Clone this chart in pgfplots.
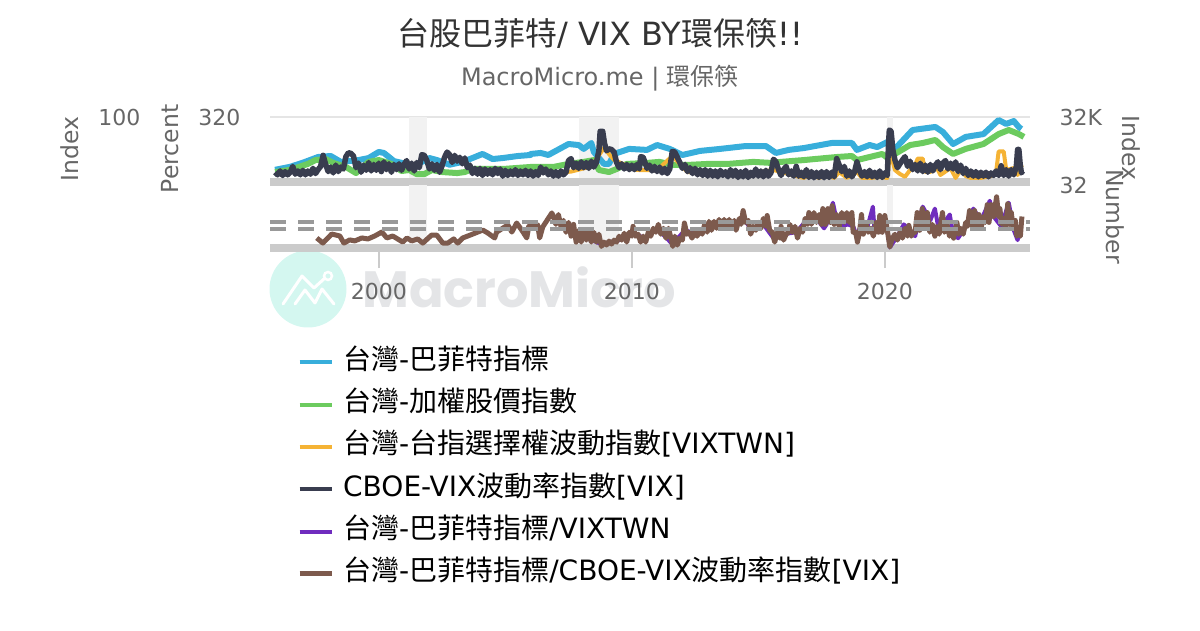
\documentclass[border=0pt]{standalone}
\usepackage{fontspec}
\usepackage{pgfplots}
\pgfplotsset{compat=1.18}
\setmainfont{DejaVu Sans}
\newfontfamily\cjkf{Noto Sans CJK TC}
\newfontfamily\wmf{Poppins}
\newcommand\cj[1]{{\cjkf #1}}
\definecolor{cblue}{HTML}{38AEDB}
\definecolor{cgreen}{HTML}{6CCB5F}
\definecolor{corange}{HTML}{F5B335}
\definecolor{cblack}{HTML}{393D4F}
\definecolor{cpurple}{HTML}{6F2CBE}
\definecolor{cbrown}{HTML}{7D5A4D}
\definecolor{axgray}{HTML}{CBCBCB}
\definecolor{bandgray}{HTML}{F2F2F2}
\definecolor{txtgray}{HTML}{666666}
\definecolor{wmgray}{HTML}{E4E5E7}
\definecolor{wmgreen}{HTML}{D4F7F0}
\pgfplotsset{
  panel/.style={
    scale only axis, width=760pt, anchor=south west,
    xmin=1995.7, xmax=2025.74, ymin=0, clip=false,
    tick label style={font=\fontsize{22}{22}\selectfont, text=txtgray},
    y axis line style={draw=none},
    ytick style={draw=none},
    x axis line style={draw=axgray, line width=8pt},
    scaled y ticks=false,
    every axis plot/.append style={line join=round},
  },
  lefttitle/.style 2 args={every axis y label/.style={
    at={(axis description cs:#1,0.51)}, anchor=center, rotate=90,
    font=\fontsize{23.5}{24}\selectfont, text=txtgray}, ylabel={#2}},
  righttitle/.style n args={3}{every axis y label/.style={
    at={(axis description cs:#1,#2)}, anchor=center, rotate=-90,
    font=\fontsize{23.5}{24}\selectfont, text=txtgray}, ylabel={#3}},
}
\begin{document}
\begin{tikzpicture}[x=1pt,y=1pt]
\path[use as bounding box] (0,0) rectangle (1200,630);
% watermark
\fill[wmgreen] (308,341) circle (38.5);
\draw[white,line width=3pt,line cap=round,line join=round] (283,326) -- (302,354) -- (314,342) -- (325,352);
\draw[white,line width=3pt,line cap=round,line join=round] (295,326) -- (305,340) -- (315,327) -- (322,341) -- (334,326);
\draw[white,line width=2.5pt] (328,354) circle (4);
\node[anchor=base west,inner sep=0pt,text=wmgray] at (362,322) {\wmf\bfseries\fontsize{51}{51}\selectfont MacroMicro};
% titles
\node[text=black!80] at (600,597) {\fontsize{32}{32}\selectfont \cj{台股巴菲特}/ VIX BY\cj{環保筷}!!};
\node[text=txtgray] at (600,552) {\fontsize{24}{24}\selectfont MacroMicro.me | \cj{環保筷}};

% top panel, percent scale: buffett indicator
\begin{axis}[panel, at={(270pt,448pt)}, height=65pt, ymax=320,
  axis x line*=bottom, axis y line*=left, xtick=\empty,
  ytick={320}, yticklabels={320},
  yticklabel style={xshift=-26pt},
  ymajorgrids, grid style={draw=black!10, line width=2pt},
  lefttitle={-0.1316}{Percent}]
\fill[bandgray] (axis cs:2001.19,20) rectangle (axis cs:2001.9,320);
\fill[bandgray] (axis cs:2007.9,20) rectangle (axis cs:2009.49,320);
\fill[bandgray] (axis cs:2020.08,20) rectangle (axis cs:2020.32,320);
\addplot[cblue, line width=6pt] coordinates {
(1995.9,60)(1996.5,75)(1997.0,95)(1997.6,123)(1998.1,128)(1998.5,99)(1999.2,108)(1999.6,118)
(2000.0,148)(2000.2,143)(2000.6,103)(2001.4,80)(2002.0,118)(2002.3,108)(2002.8,85)(2003.3,99)(2003.6,113)
(2004.1,138)(2004.5,113)(2004.9,118)(2005.5,128)(2006.0,133)(2006.0,138)(2006.4,143)(2006.7,133)
(2007.1,160)(2007.5,187)(2007.9,182)(2008.1,163)(2008.4,192)(2008.5,148)(2008.9,89)(2009.1,89)(2009.3,138)
(2009.9,163)(2010.6,158)(2011.0,182)(2011.5,163)(2012.0,133)(2012.7,153)(2013.5,163)(2014.5,177)(2015.3,177)
(2015.7,143)(2016.2,158)(2016.8,167)(2017.9,192)(2018.7,192)(2018.9,158)(2019.4,182)(2019.7,172)(2020.1,197)
(2020.2,165)(2020.4,163)(2021.1,256)(2021.4,261)(2022.0,271)(2022.3,246)(2022.7,187)(2023.2,222)(2023.9,236)
(2024.5,305)(2024.8,286)(2025.1,300)(2025.3,270)(2025.4,261)
};
\end{axis}

% top panel, index scale: taiex
\begin{axis}[panel, at={(270pt,448pt)}, height=65pt, ymax=32000,
  axis x line=none, axis y line*=right,
  ytick={32000}, yticklabels={32K},
  yticklabel style={anchor=west, xshift=26pt},
  righttitle={1.1335}{0.523}{Index}]
\addplot[cgreen, line width=6pt] coordinates {
(1995.9,4900)(1996.5,6000)(1997.2,8900)(1997.5,10800)(1997.9,11300)(1998.2,9400)(1998.7,7400)(1999.1,4400)(1999.6,9900)
(2000.0,10800)(2000.5,8900)(2000.9,5400)(2001.2,5900)(2001.5,3900)(2001.8,3900)(2002.1,5900)(2002.5,4900)(2003.1,4400)
(2003.4,4900)(2003.7,6400)(2004.9,6400)(2006.0,7400)(2006.9,7400)(2007.5,8900)(2008.1,9900)(2008.5,10800)(2008.7,5900)
(2009.1,4900)(2009.4,6400)(2009.8,8900)(2010.6,9400)(2011.1,9900)(2011.6,8400)(2012.2,8400)(2013.0,8900)(2013.8,8900)
(2014.8,9900)(2015.5,9400)(2015.9,9900)(2016.8,10800)(2018.1,12300)(2018.7,12800)(2018.9,10800)(2019.4,12300)(2019.9,13800)
(2020.2,11000)(2020.4,13800)(2021.0,18200)(2021.5,19200)(2022.0,20700)(2022.3,17200)(2022.7,13800)(2023.2,16300)(2023.9,18700)
(2024.5,23600)(2024.9,25600)(2025.3,23600)(2025.5,22200)
};
\end{axis}

% top panel, left index scale: the two volatility indices
\begin{axis}[panel, at={(270pt,448pt)}, height=65pt, ymax=100,
  axis x line=none, axis y line*=left,
  ytick={100}, yticklabels={100},
  yticklabel style={xshift=-126pt},
  lefttitle={-0.2632}{Index}]
\addplot[corange, line width=4pt] coordinates {
(2006.9,14)(2007.6,16)(2008.4,24)(2008.9,52.3)(2009.3,33.8)(2010.2,18.5)(2011.0,18)(2011.6,40)(2012.2,15.4)
(2013.4,12.3)(2014.5,12.3)(2015.6,18.5)(2016.2,12.3)(2016.8,6.2)(2017.05,12)(2017.4,6.2)(2017.7,10.8)(2018.0,6.2)
(2018.2,15.4)(2018.5,6.2)(2018.9,15.4)(2019.1,6.2)(2019.4,6.2)(2019.8,7.7)(2020.1,6.2)(2020.2,41.5)(2020.3,33.8)
(2020.4,18.5)(2020.6,12.3)(2020.8,8)(2021.0,18.5)(2021.2,26.2)(2021.3,36)(2021.5,36)(2021.6,15.4)(2021.8,15.4)
(2022.0,26.2)(2022.2,10.8)(2022.6,21.5)(2022.8,6.2)(2023.0,18.5)(2023.2,9.2)(2023.4,6.2)(2023.8,6.2)(2024.2,9.2)
(2024.4,15.4)(2024.5,47)(2024.7,47)(2024.8,18.5)(2025.1,21.5)(2025.25,10.8)(2025.42,26.2)
};
\addplot[cblack, line width=5.5pt] coordinates {
(1995.9,15)(1996.0,11)(1996.1,17)(1996.2,10)(1996.3,16)(1996.4,11)(1996.5,15)(1996.6,24)(1996.7,12)(1996.8,17)(1996.9,11)
(1997.0,18)(1997.1,11)(1997.2,17)(1997.3,12)(1997.4,21)(1997.5,13)(1997.6,19)(1997.7,24)(1997.8,41)(1997.9,27)
(1998.0,16)(1998.1,23)(1998.2,14)(1998.3,26)(1998.4,16)(1998.5,23)(1998.6,20)(1998.7,39)(1998.8,45)(1998.9,44)
(1999.0,40)(1999.1,22)(1999.2,29)(1999.3,15)(1999.4,26)(1999.5,18)(1999.6,30)(1999.7,17)(1999.8,27)(1999.9,18)
(2000.0,29)(2000.1,16)(2000.2,31)(2000.3,19)(2000.4,28)(2000.5,15)(2000.6,27)(2000.7,19)(2000.8,28)(2000.9,18)
(2001.0,27)(2001.1,33)(2001.2,20)(2001.3,29)(2001.4,17)(2001.5,30)(2001.6,22)(2001.7,42)(2001.8,41)(2001.9,33)
(2002.0,20)(2002.1,28)(2002.2,18)(2002.3,27)(2002.4,15)(2002.5,25)(2002.6,38)(2002.7,46)(2002.8,42)(2002.9,30)
(2003.0,41)(2003.1,32)(2003.2,38)(2003.3,28)(2003.4,37)(2003.5,22)(2003.6,26)(2003.7,13)(2003.8,21)(2003.9,12)
(2004.0,21)(2004.1,10)(2004.2,20)(2004.3,12)(2004.4,19)(2004.5,11)(2004.6,21)(2004.7,13)(2004.8,20)(2004.9,9)
(2005.0,18)(2005.1,10)(2005.2,17)(2005.3,11)(2005.4,19)(2005.5,10)(2005.6,17)(2005.7,11)(2005.8,18)(2005.9,10)
(2006.0,17)(2006.1,9)(2006.2,16)(2006.3,10)(2006.4,23)(2006.5,14)(2006.6,20)(2006.7,11)(2006.8,17)(2006.9,9)
(2007.0,16)(2007.1,9)(2007.2,17)(2007.3,11)(2007.4,15)(2007.5,33)(2007.6,36)(2007.7,22)(2007.8,29)(2007.9,21)
(2008.0,31)(2008.1,22)(2008.2,30)(2008.3,21)(2008.4,32)(2008.5,23)(2008.6,30)(2008.7,48)(2008.75,78)(2008.85,78)(2008.92,60)
(2009.0,48)(2009.1,51)(2009.2,50)(2009.3,46)(2009.4,30)(2009.5,22)(2009.6,28)(2009.7,20)(2009.8,27)(2009.9,19)
(2010.0,26)(2010.1,19)(2010.2,27)(2010.3,20)(2010.35,39)(2010.45,38)(2010.55,27)(2010.6,21)(2010.7,26)(2010.8,17)(2010.9,24)
(2011.0,16)(2011.1,23)(2011.2,14)(2011.3,21)(2011.4,13)(2011.5,20)(2011.6,47)(2011.7,46)(2011.8,38)(2011.9,30)
(2012.0,21)(2012.1,27)(2012.2,16)(2012.3,22)(2012.4,13)(2012.5,21)(2012.6,11)(2012.7,19)(2012.8,10)(2012.9,19)
(2013.0,9)(2013.1,18)(2013.2,9)(2013.3,17)(2013.4,8)(2013.5,18)(2013.6,10)(2013.7,16)(2013.8,8)(2013.9,19)
(2014.0,9)(2014.1,18)(2014.2,7)(2014.3,16)(2014.4,8)(2014.5,18)(2014.6,7)(2014.7,15)(2014.8,9)(2014.9,20)
(2015.0,9)(2015.1,17)(2015.2,8)(2015.3,18)(2015.4,9)(2015.5,14)(2015.6,35)(2015.7,31)(2015.8,19)(2015.9,10)
(2016.0,19)(2016.1,24)(2016.2,11)(2016.3,17)(2016.4,9)(2016.5,24)(2016.6,9)(2016.7,15)(2016.8,8)(2016.9,19)
(2017.0,7)(2017.1,16)(2017.2,6.5)(2017.3,15)(2017.4,7)(2017.5,16)(2017.6,6.5)(2017.7,16)(2017.8,7)(2017.9,15)
(2018.0,8)(2018.1,36)(2018.2,26)(2018.3,16)(2018.4,24)(2018.5,9)(2018.6,17)(2018.7,8)(2018.8,15)(2018.9,31)
(2019.0,18)(2019.1,9)(2019.2,16)(2019.3,8)(2019.4,18)(2019.5,8)(2019.6,15)(2019.7,7)(2019.8,17)(2019.9,7)
(2020.0,14)(2020.1,10)(2020.15,60)(2020.18,80)(2020.25,78)(2020.32,49)(2020.4,34)(2020.5,22)(2020.6,28)(2020.7,34)(2020.8,39)(2020.9,24)
(2021.0,32)(2021.1,19)(2021.2,27)(2021.3,17)(2021.4,29)(2021.5,16)(2021.6,26)(2021.7,15)(2021.8,27)(2021.9,17)
(2022.0,26)(2022.1,31)(2022.2,19)(2022.3,29)(2022.4,33)(2022.5,20)(2022.6,29)(2022.7,20)(2022.8,31)(2022.9,16)
(2023.0,26)(2023.1,13)(2023.2,21)(2023.3,10)(2023.4,17)(2023.5,9)(2023.6,16)(2023.7,8)(2023.8,15)(2023.9,9)
(2024.0,15)(2024.1,8)(2024.2,14)(2024.3,10)(2024.4,17)(2024.5,10)(2024.6,25)(2024.7,10)(2024.8,19)(2024.9,9)
(2025.0,19)(2025.1,11)(2025.2,24)(2025.25,50)(2025.3,50)(2025.35,28)(2025.4,14)(2025.45,17)
};
\end{axis}

% bottom panel: ratios
\begin{axis}[panel, at={(270pt,382pt)}, height=63pt, ymax=32,
  axis x line*=bottom, axis y line*=right,
  xtick={2000,2010,2020}, xticklabels={2000,2010,2020},
  tick align=outside, major tick length=20pt,
  xtick style={draw=axgray, line width=2pt},
  xticklabel style={yshift=-12pt},
  ytick={32}, yticklabels={32},
  yticklabel style={anchor=west, xshift=6pt},
  righttitle={1.1125}{0.50}{Number},
  legend style={at={(rel axis cs:0.0355,-1.605)}, anchor=north west, draw=none, fill=none,
    inner sep=0pt, font=\fontsize{28}{28}\selectfont, row sep=16.3pt,
    nodes={inner sep=0pt, text height=20pt, text depth=6pt},
    /tikz/column 1/.style={column sep=9pt}},
  legend cell align=left,
  legend image code/.code={\draw[#1] (0pt,0pt) -- (32pt,0pt);}]
\fill[bandgray] (axis cs:2001.19,2) rectangle (axis cs:2001.9,32);
\fill[bandgray] (axis cs:2007.9,2) rectangle (axis cs:2009.49,32);
\fill[bandgray] (axis cs:2020.08,2) rectangle (axis cs:2020.32,32);
\addlegendimage{cblue, line width=4pt}
\addlegendentry{\cj{台灣}-\cj{巴菲特指標}}
\addlegendimage{cgreen, line width=4pt}
\addlegendentry{\cj{台灣}-\cj{加權股價指數}}
\addlegendimage{corange, line width=4pt}
\addlegendentry{\cj{台灣}-\cj{台指選擇權波動指數}[VIXTWN]}
\addlegendimage{cblack, line width=4pt}
\addlegendentry{CBOE-VIX\cj{波動率指數}[VIX]}
\addplot[cpurple, line width=4pt] coordinates {
(2006.9,15)(2007.5,10)(2008.0,6)(2008.8,2)(2009.5,4)(2010.0,8)(2010.5,5)(2011.0,10)(2011.6,2)(2012.1,9)(2012.6,7)(2013.0,10)
(2013.5,12)(2014.0,12)(2014.4,15)(2014.7,10)(2015.2,12)(2015.6,5)(2016.0,7)(2016.5,8)(2016.9,14)(2017.3,15)(2017.6,10)(2017.7,12)
(2017.95,23)(2018.1,14)(2018.3,11)(2018.54,12)(2018.75,11)(2018.9,6)(2019.1,13)(2019.3,10)(2019.53,21)(2019.6,8)(2019.9,14)
(2020.05,13)(2020.2,0.3)(2020.5,6)(2020.75,12)(2021.0,9)(2021.2,6)(2021.35,14)(2021.5,21)(2021.8,14)(2021.98,20)(2022.15,8)
(2022.35,13)(2022.57,17)(2022.7,7)(2022.9,5)(2023.1,9)(2023.35,15)(2023.5,20)(2023.8,14)(2024.15,24)(2024.3,16)(2024.6,11)
(2024.9,23)(2025.1,9)(2025.25,4)(2025.42,14)
};
\addlegendentry{\cj{台灣}-\cj{巴菲特指標}/VIXTWN}
\addplot[cbrown, line width=5pt] coordinates {
(1997.55,5.1)(1997.79,2.5)(1998.14,7.1)(1998.46,6.1)(1998.62,2.5)(1998.85,4.1)(1999.05,3.6)(1999.33,5.1)(1999.57,4.6)(1999.84,6.1)
(2000.12,8.1)(2000.32,5.1)(2000.55,6.1)(2000.95,3.0)(2001.11,5.1)(2001.30,3.6)(2001.54,4.6)(2001.74,2.5)(2002.09,6.6)(2002.29,6.6)
(2002.53,2.5)(2002.73,2.5)(2002.96,4.6)(2003.12,2.5)(2003.32,5.1)(2003.72,7.1)(2004.11,9.1)(2004.31,7.6)(2004.58,5.1)(2004.66,8.1)
(2005.10,11.7)(2005.26,8.1)(2005.45,12.7)(2005.65,9.1)(2005.85,5.1)(2005.93,11.2)(2006.28,11.7)(2006.36,5.1)(2006.48,10.7)(2006.84,17.8)
(2006.9,16)(2007.0,12)(2007.1,17)(2007.2,11)(2007.3,14)(2007.4,8)(2007.5,13)(2007.6,6)(2007.7,12)(2007.8,3)(2007.9,9)(2008.0,3)
(2008.1,9)(2008.2,4)(2008.3,9)(2008.4,3)(2008.5,8)(2008.6,3)(2008.7,7)(2008.8,0.8)(2008.9,3)(2009.0,1.5)(2009.1,3.5)(2009.2,2)
(2009.3,4)(2009.4,3)(2009.5,6)(2009.6,4)(2009.7,7.5)(2009.8,3)(2009.9,8)(2010.0,6)(2010.05,11)(2010.15,6)(2010.25,7)(2010.35,3)
(2010.45,6)(2010.55,3)(2010.65,8)(2010.75,6)(2010.85,10)(2010.95,8)(2011.05,12)(2011.15,7)(2011.25,10)(2011.35,5)(2011.45,10)(2011.55,5)
(2011.62,0.8)(2011.7,6)(2011.8,1.5)(2011.9,5)(2012.0,4)(2012.08,12.7)(2012.18,7)(2012.28,8)(2012.38,5)(2012.48,8)(2012.58,6)(2012.68,9)
(2012.78,7)(2012.88,12)(2012.98,8)(2013.05,13.5)(2013.15,9)(2013.25,13.5)(2013.35,10)(2013.45,14.5)(2013.55,10)(2013.65,14.5)(2013.75,10)(2013.85,14.5)
(2013.95,10)(2014.05,14)(2014.12,9)(2014.25,15)(2014.32,12)(2014.4,19)(2014.5,13)(2014.6,14)(2014.7,7)(2014.8,11)(2014.9,9)(2015.0,13)
(2015.1,10)(2015.2,15)(2015.3,11)(2015.35,16.5)(2015.45,9)(2015.55,8)(2015.65,3)(2015.75,8)(2015.85,5)(2015.9,11)(2016.0,4)(2016.1,7)
(2016.2,8)(2016.25,12)(2016.35,8)(2016.45,11)(2016.55,5)(2016.65,10)(2016.75,8)(2016.85,15)(2016.95,12)(2017.0,18)(2017.1,12)(2017.2,18)
(2017.3,13)(2017.4,17)(2017.5,12)(2017.55,20)(2017.65,12)(2017.75,20)(2017.85,13)(2017.92,21.5)(2018.0,12)(2018.1,17)(2018.2,11)(2018.3,18)
(2018.4,13)(2018.5,18)(2018.6,13)(2018.7,18)(2018.75,8)(2018.85,8)(2018.92,3)(2019.0,8)(2019.08,17)(2019.15,7)(2019.25,13)(2019.35,8)
(2019.45,10)(2019.55,6)(2019.65,13)(2019.75,8)(2019.8,16.5)(2019.9,8)(2020.0,16.5)(2020.1,9)(2020.2,0.5)(2020.3,5)(2020.4,7)(2020.5,4)
(2020.6,8)(2020.7,5)(2020.8,10)(2020.9,6)(2020.95,11.5)(2021.05,6)(2021.12,8)(2021.2,8)(2021.28,18)(2021.38,9)(2021.48,20)(2021.58,10)
(2021.68,18)(2021.78,8)(2021.88,12)(2021.98,6)(2022.05,11)(2022.15,7)(2022.28,18)(2022.36,8)(2022.46,12)(2022.56,6)(2022.66,9)(2022.72,5)
(2022.85,13)(2022.92,7)(2023.0,10)(2023.1,7)(2023.2,13)(2023.27,11)(2023.35,19)(2023.45,11)(2023.55,19)(2023.65,10)(2023.72,17)(2023.82,11)
(2023.9,16)(2023.97,13)(2024.05,22)(2024.12,13)(2024.2,22)(2024.3,16)(2024.42,26)(2024.5,16)(2024.55,20)(2024.62,12)(2024.7,15)(2024.78,10)
(2024.86,22.5)(2024.94,12)(2025.0,18)(2025.08,10)(2025.16,14)(2025.22,6)(2025.3,8)(2025.36,6)(2025.42,16)
};
\addlegendentry{\cj{台灣}-\cj{巴菲特指標}/CBOE-VIX\cj{波動率指數}[VIX]}
\addplot[forget plot, draw=black!40, line width=4pt, dash pattern=on 16pt off 12pt] coordinates {(1995.7,13.4)(2025.74,13.4)};
\addplot[forget plot, draw=black!40, line width=4pt, dash pattern=on 16pt off 12pt] coordinates {(1995.7,9.45)(2025.74,9.45)};
\end{axis}
\end{tikzpicture}
\end{document}
